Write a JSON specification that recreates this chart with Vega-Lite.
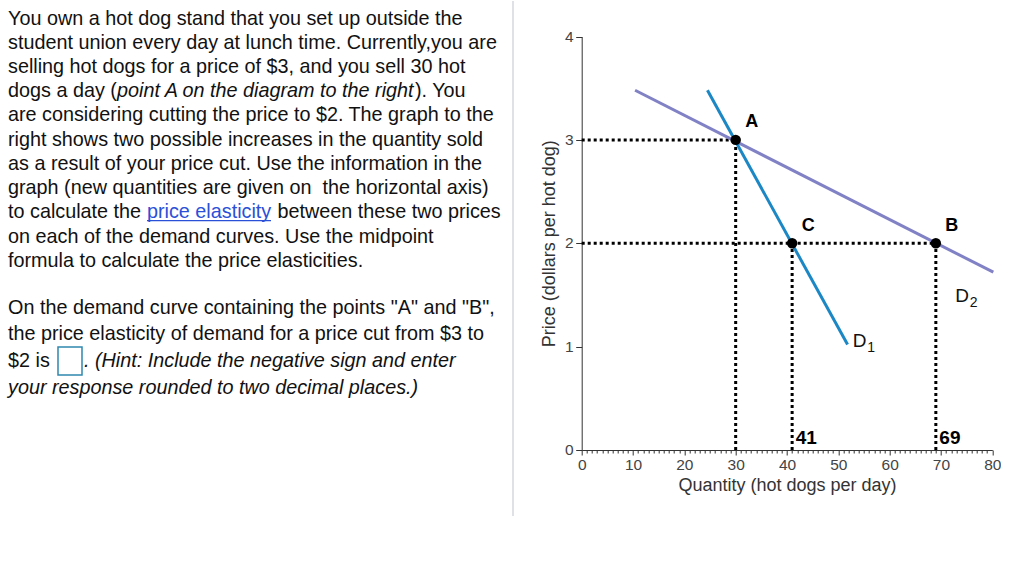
{
  "$schema": "https://vega.github.io/schema/vega-lite/v6.json",
  "background": "white",
  "padding": {"left": 8, "top": 0, "right": 0, "bottom": 0},
  "bounds": "flush",
  "spacing": 68.7,
  "config": {"view": {"stroke": null}, "font": "Liberation Sans"},
  "datasets": {
    "para1": [
      {"line": 1, "seg": "a", "text": "You own a hot dog stand that you set up outside the"},
      {"line": 2, "seg": "a", "text": "student union every day at lunch time. Currently,you are"},
      {"line": 3, "seg": "a", "text": "selling hot dogs for a price of $3, and you sell 30 hot"},
      {"line": 4, "seg": "a", "text": "dogs a day ("},
      {"line": 4, "seg": "it", "text": "point A on the diagram to the right"},
      {"line": 4, "seg": "it2", "text": "). You"},
      {"line": 5, "seg": "a", "text": "are considering cutting the price to $2. The graph to the"},
      {"line": 6, "seg": "a", "text": "right shows two possible increases in the quantity sold"},
      {"line": 7, "seg": "a", "text": "as a result of your price cut. Use the information in the"},
      {"line": 8, "seg": "a", "text": "graph (new quantities are given on\u00a0 the horizontal axis)"},
      {"line": 9, "seg": "a", "text": "to calculate the"},
      {"line": 9, "seg": "lk", "text": "price elasticity"},
      {"line": 9, "seg": "lk2", "text": "between these two prices"},
      {"line": 10, "seg": "a", "text": "on each of the demand curves. Use the midpoint"},
      {"line": 11, "seg": "a", "text": "formula to calculate the price elasticities."}
    ],
    "para2": [
      {"line": 1, "seg": "a", "text": "On the demand curve containing the points \"A\" and \"B\","},
      {"line": 2, "seg": "a", "text": "the price elasticity of demand for a price cut from $3 to"},
      {"line": 3, "seg": "a", "text": "$2 is"},
      {"line": 3, "seg": "it", "text": ". (Hint: Include the negative sign and enter"},
      {"line": 4, "seg": "it0", "text": "your response rounded to two decimal places.)"}
    ],
    "guides": [
      {"q": 0, "q2": 30, "p": 3, "p2": 3},
      {"q": 0, "q2": 69, "p": 2, "p2": 2},
      {"q": 30, "q2": 30, "p": 0, "p2": 3},
      {"q": 41, "q2": 41, "p": 0, "p2": 2},
      {"q": 69, "q2": 69, "p": 0, "p2": 2}
    ],
    "curves": [
      {"curve": "D2", "q": 10.4, "p": 3.48},
      {"curve": "D2", "q": 80.2, "p": 1.72},
      {"curve": "D1", "q": 24.5, "p": 3.48},
      {"curve": "D1", "q": 51.8, "p": 1.02}
    ],
    "points": [
      {"q": 30, "p": 3, "label": "A"},
      {"q": 69, "p": 2, "label": "B"},
      {"q": 41, "p": 2, "label": "C"}
    ],
    "qlabels": [
      {"q": 41, "p": 0, "label": "41"},
      {"q": 69, "p": 0, "label": "69"}
    ],
    "ylabels": [
      {"q": 0, "p": 0, "label": "0"},
      {"q": 0, "p": 1, "label": "1"},
      {"q": 0, "p": 2, "label": "2"},
      {"q": 0, "p": 3, "label": "3"},
      {"q": 0, "p": 4, "label": "4"}
    ],
    "dlabels": [
      {"q": 52.8, "p": 1.05, "main": "D", "sub": "1"},
      {"q": 72.8, "p": 1.49, "main": "D", "sub": "2"}
    ]
  },
  "hconcat": [
    {
      "width": 505,
      "height": 515,
      "layer": [
        {
          "data": {"name": "para1"},
          "encoding": {
            "x": {"datum": 0, "type": "quantitative", "scale": {"domain": [0, 1]}, "axis": null},
            "y": {"field": "line", "type": "quantitative", "scale": {"domain": [0.03, 21.284], "reverse": true, "nice": false, "zero": false}, "axis": null},
            "text": {"field": "text"}
          },
          "layer": [
            {"transform": [{"filter": "datum.seg === 'a'"}], "mark": {"type": "text", "align": "left", "baseline": "alphabetic", "fontSize": 19.8, "color": "#111111"}},
            {"transform": [{"filter": "datum.seg === 'it'"}], "mark": {"type": "text", "align": "left", "baseline": "alphabetic", "fontSize": 19.8, "fontStyle": "italic", "dx": 109, "color": "#111111"}},
            {"transform": [{"filter": "datum.seg === 'it2'"}], "mark": {"type": "text", "align": "left", "baseline": "alphabetic", "fontSize": 19.8, "dx": 407, "color": "#111111"}},
            {"transform": [{"filter": "datum.seg === 'lk'"}], "mark": {"type": "text", "align": "left", "baseline": "alphabetic", "fontSize": 19.8, "dx": 139, "color": "#2b50d8"}},
            {"transform": [{"filter": "datum.seg === 'lk2'"}], "mark": {"type": "text", "align": "left", "baseline": "alphabetic", "fontSize": 19.8, "dx": 269.5, "color": "#111111"}},
            {"transform": [{"filter": "datum.seg === 'lk'"}], "mark": {"type": "point", "shape": "M13.9,0.22H26.3", "size": 400, "filled": false, "color": "#2b50d8", "strokeWidth": 1.3, "opacity": 1}}
          ]
        },
        {
          "data": {"name": "para2"},
          "encoding": {
            "x": {"datum": 0, "type": "quantitative", "scale": {"domain": [0, 1]}, "axis": null},
            "y": {"field": "line", "type": "quantitative", "scale": {"domain": [-10.72, 8.59], "reverse": true, "nice": false, "zero": false}, "axis": null},
            "text": {"field": "text"}
          },
          "layer": [
            {"transform": [{"filter": "datum.seg === 'a'"}], "mark": {"type": "text", "align": "left", "baseline": "alphabetic", "fontSize": 19.8, "color": "#111111"}},
            {"transform": [{"filter": "datum.seg === 'it'"}], "mark": {"type": "text", "align": "left", "baseline": "alphabetic", "fontSize": 19.8, "fontStyle": "italic", "dx": 76, "color": "#111111"}},
            {"transform": [{"filter": "datum.seg === 'it0'"}], "mark": {"type": "text", "align": "left", "baseline": "alphabetic", "fontSize": 19.8, "fontStyle": "italic", "color": "#111111"}},
            {"transform": [{"filter": "datum.seg === 'a' && datum.line === 3"}], "mark": {"type": "point", "shape": "M5,-2H7.4V0.8H5Z", "size": 400, "filled": false, "color": "#2e88b0", "strokeWidth": 1.5, "opacity": 1}}
          ]
        },
        {
          "data": {"values": [{}]},
          "mark": {"type": "rule", "color": "#d4d7df", "strokeWidth": 1.5},
          "encoding": {"x": {"datum": 1, "type": "quantitative", "scale": {"domain": [0, 1]}, "axis": null}}
        }
      ],
      "resolve": {"scale": {"y": "independent"}}
    },
    {
      "width": 410.6,
      "height": 449,
      "encoding": {
        "x": {
          "field": "q", "type": "quantitative",
          "scale": {"domain": [0, 80], "nice": false, "zero": false},
          "axis": {
            "title": "Quantity (hot dogs per day)",
            "tickCount": 80,
            "labelExpr": "datum.value % 10 === 0 ? datum.label : ''",
            "tickSize": {"condition": {"test": "datum.value % 10 === 0", "value": 5}, "value": 3},
            "labelOverlap": false, "labelFlush": false, "grid": false,
            "labelFontSize": 15.5, "labelColor": "#444444", "labelPadding": 2,
            "titleFontSize": 18, "titleFontWeight": "normal", "titleColor": "#333333", "titlePadding": 4,
            "domainColor": "#333333", "tickColor": "#333333"
          }
        },
        "y": {
          "field": "p", "type": "quantitative",
          "scale": {"domain": [0, 4], "range": [449, 35.5], "nice": false},
          "axis": {
            "title": "Price (dollars per hot dog)",
            "values": [0, 1, 2, 3, 4],
            "labels": false,
            "tickSize": 6, "grid": false,
            "titleFontSize": 18, "titleFontWeight": "normal", "titleColor": "#333333", "titlePadding": 17,
            "domainColor": "#333333", "tickColor": "#333333"
          }
        }
      },
      "layer": [
        {
          "data": {"name": "guides"},
          "mark": {"type": "rule", "strokeDash": [3, 3], "strokeWidth": 3, "color": "black"},
          "encoding": {"x2": {"field": "q2"}, "y2": {"field": "p2"}}
        },
        {
          "data": {"name": "curves"},
          "mark": {"type": "line", "strokeWidth": 3},
          "encoding": {
            "color": {"field": "curve", "type": "nominal", "scale": {"domain": ["D1", "D2"], "range": ["#1b87c5", "#8181c6"]}, "legend": null}
          }
        },
        {
          "data": {"name": "points"},
          "mark": {"type": "point", "filled": true, "size": 110, "color": "black", "opacity": 1}
        },
        {
          "data": {"name": "points"},
          "mark": {"type": "text", "fontWeight": "bold", "fontSize": 18, "dx": 16, "dy": -17.5, "color": "black"},
          "encoding": {"text": {"field": "label"}}
        },
        {
          "data": {"name": "qlabels"},
          "mark": {"type": "text", "fontWeight": "bold", "fontSize": 19, "align": "left", "baseline": "alphabetic", "dx": 3.5, "dy": -6, "color": "black"},
          "encoding": {"text": {"field": "label"}}
        },
        {
          "data": {"name": "ylabels"},
          "mark": {"type": "text", "fontSize": 15.5, "align": "right", "baseline": "middle", "dx": -8, "color": "#444444"},
          "encoding": {"text": {"field": "label"}}
        },
        {
          "data": {"name": "dlabels"},
          "mark": {"type": "text", "fontSize": 19, "align": "left", "baseline": "middle", "color": "#111111"},
          "encoding": {"text": {"field": "main"}}
        },
        {
          "data": {"name": "dlabels"},
          "mark": {"type": "text", "fontSize": 14, "align": "left", "baseline": "middle", "dx": 14.5, "dy": 7, "color": "#111111"},
          "encoding": {"text": {"field": "sub"}}
        }
      ]
    }
  ]
}
